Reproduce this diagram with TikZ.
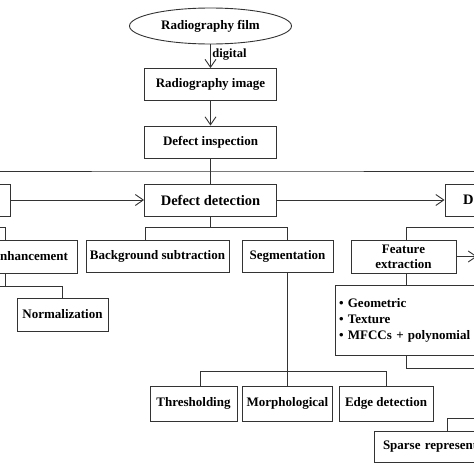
\documentclass[tikz,border=0pt]{standalone}
\usepackage{fontspec}
\setmainfont{Liberation Serif}
\usetikzlibrary{arrows.meta,shapes.geometric}

\begin{document}
\begin{tikzpicture}[
  x=1pt, y=-1pt,
  >={Straight Barb[length=8pt,width=11pt]},
  pbox/.style={draw=black!80, line width=0.9pt, fill=white, minimum height=32pt, inner sep=0pt, align=center, font=\bfseries\fontsize{13}{15}\selectfont},
  cbox/.style={pbox, font=\bfseries\fontsize{14.5}{17}\selectfont},
  oval/.style={draw=black!80, line width=0.9pt, ellipse, minimum width=162pt, minimum height=36pt, inner sep=0pt, font=\bfseries\fontsize{13}{15}\selectfont},
  arr/.style={->, line width=0.9pt, draw=black!80},
  ln/.style={line width=0.9pt, draw=black!80},
  lbl/.style={font=\bfseries\fontsize{12.5}{14}\selectfont, inner sep=1.5pt},
]
\useasboundingbox (0,0) rectangle (474,474);
\clip (0,0) rectangle (474,474);

% top of the chart
\node[oval] (film) at (210.5,26) {Radiography film};
\node[pbox, minimum width=132pt] (rimg) at (210.5,84.5) {Radiography image};
\node[pbox, minimum width=132pt] (insp) at (210.5,142) {Defect inspection};
\coordinate (trunk) at (210.5,171);

% main stages
\node[cbox, minimum width=80pt] (prep) at (-30,200) {};
\node[cbox, minimum width=132pt] (detect) at (210.5,200) {Defect detection};
\node[cbox, text width=114pt, inner xsep=18pt, align=left] (dclass) at (520,200) {D};

% enhancement side
\node[pbox, text width=112pt, inner xsep=9pt, minimum height=33pt, align=right] (enh) at (12,256.5) {enhancement};
\node[pbox, minimum width=91pt, minimum height=33pt] (norm) at (62.5,314.5) {Normalization};
\coordinate (enhleft) at (-20,286);

% detection side
\node[pbox, minimum width=143pt] (bgsub) at (157.5,256) {Background subtraction};
\node[pbox, minimum width=91pt] (seg) at (287.5,256) {Segmentation};
\node[pbox, minimum width=87pt, minimum height=35pt] (thr) at (193.5,403.5) {Thresholding};
\node[pbox, minimum width=90pt, minimum height=35pt] (morph) at (287.5,403.5) {Morphological};
\node[pbox, minimum width=94pt, minimum height=35pt] (edge) at (386,403.5) {Edge detection};

% feature side
\node[pbox, minimum width=105pt, minimum height=33pt] (feat) at (403.5,256.5) {Feature\\extraction};
\node[pbox, text width=137pt, inner xsep=4pt, minimum height=70pt, align=left, font=\bfseries\fontsize{13}{16}\selectfont] (list) at (407.5,320)
  {\textbullet\ Geometric\\\textbullet\ Texture\\\textbullet\ MFCCs + polynomial};
\node[pbox, text width=130pt, inner xsep=9pt, minimum height=31pt, align=left] (sparse) at (448,446.5) {Sparse representation};
\coordinate (featout) at (477,256.5);
\coordinate (listout) at (490,368);
\coordinate (sparsein) at (490,418);

% connectors
\draw[arr] (film) -- node[lbl, right, pos=0.42] {digital} (rimg);
\draw[arr] (rimg) -- (insp);
\draw[ln] (insp) -- (trunk);
\draw[ln] (prep.north) |- (trunk) -| (dclass.north);
\draw[ln] (trunk) -- (detect);
\draw[arr] (prep) -- (detect);
\draw[arr] (detect) -- (dclass);

\draw[ln] ([xshift=-7pt]enh.north) -- ++(0,-12) -| (prep.south);
\draw[ln] ([xshift=-7pt]enh.south) -- ([xshift=-7pt]enh.south |- enhleft);
\draw[ln] (enhleft) -| (norm.north);

\draw[ln] ([xshift=-12.5pt]bgsub.north) -- ++(0,-12) -| (detect.south);
\draw[ln] (seg.north) -- ++(0,-12) -| (detect.south);
\draw[ln] ([xshift=6.5pt]thr.north) -- ++(0,-14) -| (seg.south);
\draw[ln] (morph.north) -- (seg.south);
\draw[ln] (edge.north) -- ++(0,-14) -| (seg.south);

\draw[ln] ([xshift=2.5pt]feat.north) -- ++(0,-12) -| (dclass.south);
\draw[arr] (feat) -- (featout);
\draw[ln] ([xshift=2.5pt]feat.south) -- ([xshift=-1.5pt]list.north);
\draw[ln] ([xshift=-1.5pt]list.south) |- (listout);
\draw[ln] ([xshift=-1pt]sparse.north) |- (sparsein);

\end{tikzpicture}
\end{document}
